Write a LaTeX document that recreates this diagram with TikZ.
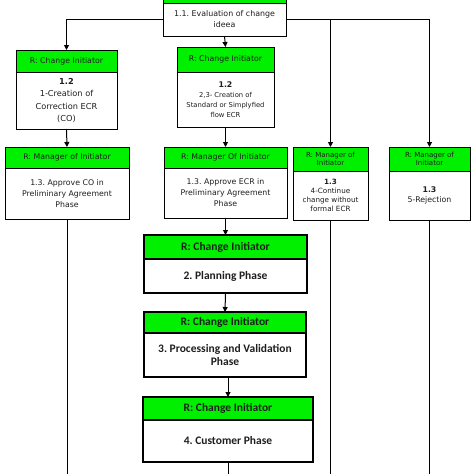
\documentclass[tikz,border=0pt]{standalone}
\usepackage{fontspec}
\setmainfont{DejaVu Sans}
\newfontfamily\carl{Carlito}
\usetikzlibrary{arrows.meta}
\definecolor{boxgreen}{RGB}{0,240,0}
\definecolor{txt}{RGB}{30,30,30}
\frenchspacing
\begin{document}
\begin{tikzpicture}[x=1pt,y=-1pt,
  box/.style={draw=black, line width=0.9pt, outer sep=0pt, inner sep=1pt, align=flush center, text=txt},
  hdr/.style={box, fill=boxgreen, anchor=north west, font=\fontsize{7.8}{8.6}\selectfont},
  bdy/.style={box, fill=white, anchor=north, font=\fontsize{7.5}{11}\selectfont},
  bhdr/.style={box, fill=boxgreen, anchor=north west, line width=1.1pt, font=\carl\bfseries\fontsize{11.5}{13}\selectfont},
  bbdy/.style={box, fill=white, anchor=north, line width=1.1pt, font=\carl\bfseries\fontsize{11.5}{13}\selectfont},
  arr/.style={line width=1pt, -{Triangle[length=5pt,width=5pt]}},
  ln/.style={line width=1pt}]
\useasboundingbox (0,0) rectangle (474,474);
\clip (0,0) rectangle (474,474);
\fill[white] (0,0) rectangle (474,474);

% top box
\node[hdr, minimum width=123, minimum height=8] (eh) at (163,-5) {};
\node[bdy, minimum width=123, minimum height=33, text width=119, font=\fontsize{7.9}{11}\selectfont] (e) at (eh.south) {1.1. Evaluation of change\\ideea};

% left 1.2
\node[hdr, minimum width=101, minimum height=22] (l12h) at (16,50) {R: Change Initiator};
\node[bdy, minimum width=101, minimum height=57, text width=97, font=\fontsize{8.2}{12.5}\selectfont] (l12) at (l12h.south) {\textbf{1.2}\\1-Creation of\\Correction ECR\\(CO)};

% middle 1.2
\node[hdr, minimum width=97, minimum height=25] (m12h) at (177,47) {R: Change Initiator};
\node[bdy, minimum width=97, minimum height=55, text width=95, font=\fontsize{6.8}{9.8}\selectfont] (m12) at (m12h.south) {{\fontsize{7.8}{9.8}\selectfont\textbf{1.2}}\\2,3- Creation of\\Standard or Simplyfied\\flow ECR};

% left 1.3
\node[hdr, minimum width=124, minimum height=21] (l13h) at (5,147) {R: Manager of Initiator};
\node[bdy, minimum width=124, minimum height=51, text width=118, font=\fontsize{7.8}{11}\selectfont] (l13) at (l13h.south) {1.3. Approve CO in\\Preliminary Agreement\\Phase};

% middle 1.3
\node[hdr, minimum width=123, minimum height=21] (m13h) at (164,147) {R: Manager Of Initiator};
\node[bdy, minimum width=123, minimum height=50, text width=118, font=\fontsize{7.8}{11}\selectfont] (m13) at (m13h.south) {1.3. Approve ECR in\\Preliminary Agreement\\Phase\\[6pt]};

% right boxes
\node[hdr, minimum width=75, minimum height=24, text width=72, font=\fontsize{7}{8}\selectfont] (r1h) at (293,147) {R: Manager of\\Initiator};
\node[bdy, minimum width=75, minimum height=49, text width=73, font=\fontsize{7.2}{9}\selectfont] (r1) at (r1h.south) {\textbf{1.3}\\4-Continue\\change without\\formal ECR};

\node[hdr, minimum width=81, minimum height=24, text width=78, font=\fontsize{7}{8}\selectfont] (r2h) at (389,147) {R: Manager of\\Initiator};
\node[bdy, minimum width=81, minimum height=49, text width=78, font=\fontsize{7.8}{10.5}\selectfont] (r2) at (r2h.south) {\textbf{1.3}\\5-Rejection};

% phase boxes
\node[bhdr, minimum width=163, minimum height=24] (p2h) at (144,235) {R: Change Initiator};
\node[bbdy, minimum width=163, minimum height=34, text width=158] (p2) at (p2h.south) {2. Planning Phase};

\node[bhdr, minimum width=162, minimum height=21] (p3h) at (144,312) {R: Change Initiator};
\node[bbdy, minimum width=162, minimum height=44, text width=158] (p3) at (p3h.south) {3. Processing and Validation\\Phase};

\node[bhdr, minimum width=170, minimum height=23] (p4h) at (143,397) {R: Change Initiator};
\node[bbdy, minimum width=170, minimum height=42, text width=166] (p4) at (p4h.south) {4. Customer Phase};

% bottom end coordinates
\coordinate (lb) at (l13.south |- 0,480);
\coordinate (pb) at (p4.south |- 0,480);
\coordinate (r1b) at (r1.south |- 0,480);
\coordinate (r2b) at (r2.south |- 0,480);

% connectors
\draw[arr] (e.west) -| (l12h.north);
\draw[arr] (e.east) -| (r1h.north);
\draw[arr] (e.east) -| (r2h.north);
\draw[arr] (e.south) -- (m12h.north);
\draw[arr] (l12.south) -- (l13h.north);
\draw[arr] (m12.south) -- (m13h.north);
\draw[arr] (m13.south) -- (p2h.north);
\draw[arr] (p2.south) -- (p3h.north);
\draw[arr] (p3.south -| p4h.north) -- (p4h.north);
\draw[ln] (l13.south) -- (lb);
\draw[ln] (p4.south) -- (pb);
\draw[ln] (r1.south) -- (r1b);
\draw[ln] (r2.south) -- (r2b);
\end{tikzpicture}
\end{document}
